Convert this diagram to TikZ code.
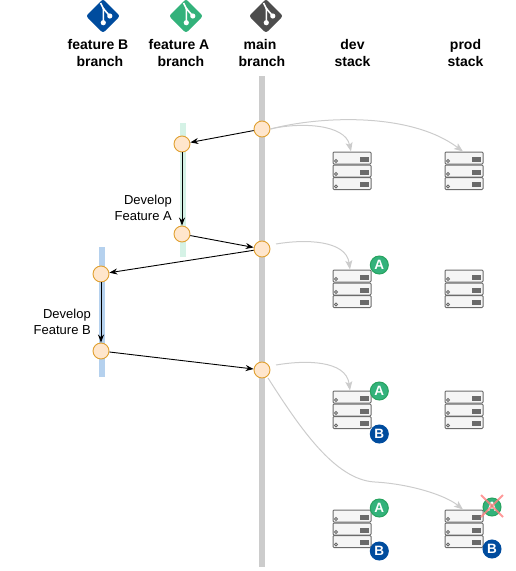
\documentclass[tikz,border=0pt]{standalone}
\usepackage{fontspec}
\setmainfont{Liberation Sans}
\usetikzlibrary{arrows.meta}
\definecolor{cgreen}{HTML}{33B27B}
\definecolor{cgreenb}{HTML}{27A35F}
\definecolor{cblue}{HTML}{004C9E}
\definecolor{cdark}{HTML}{4D4D4D}
\definecolor{cbar}{HTML}{CCCCCC}
\definecolor{cbara}{HTML}{D5F2E6}
\definecolor{cbarb}{HTML}{B5D1EE}
\definecolor{cfill}{HTML}{FFE6CC}
\definecolor{cedge}{HTML}{E0A030}
\tikzset{
  commit/.style={circle,draw=cedge,fill=cfill,line width=.9pt,minimum size=16pt,inner sep=0pt},
  flow/.style={-{Stealth[length=8pt,width=6pt]},black,line width=.9pt},
  deploy/.style={-{Stealth[length=9pt,width=7pt,inset=2pt]},cbar,line width=1pt},
  head/.style={font=\fontsize{14}{17}\selectfont\bfseries,align=center,text=black,inner sep=0pt},
  note/.style={font=\fontsize{13}{16}\selectfont,align=right,anchor=east,inner sep=0pt},
  unit/.style={draw=black!58,fill=black!4,rounded corners=1pt,line width=1pt,minimum width=38pt,minimum height=12pt,inner sep=0pt},
  badge/.style={circle,minimum size=18pt,inner sep=0pt,text=white,font=\fontsize{13.5}{13.5}\selectfont\bfseries},
  badgea/.style={badge,fill=cgreen,draw=cgreenb,line width=1pt},
  badgeb/.style={badge,fill=cblue,draw=cblue,line width=1pt},
}
\newcommand{\gitlogo}[3]{%
  \begin{scope}[shift={(#1,#2)}]
    \fill[#3,rounded corners=2.5pt] (-17,0)--(0,-17)--(17,0)--(0,17)--cycle;
    \draw[white,line width=1.6pt] (-2.4,-13)--(0.3,-7.5)--(0.3,6.7);
    \draw[white,line width=1.6pt] (0.3,-7.5)--(6.8,0);
    \fill[white] (0.3,6.7) circle (2.6pt) (6.8,0) circle (2.6pt) (0.3,-7.5) circle (1pt);
  \end{scope}}
\newcommand{\serverunit}[3]{%
  \node[unit] (#1) at (#2,#3) {};
  \fill[black!58] (#2+7.5,#3-1.2) rectangle (#2+16.5,#3+3.6);
  \draw[black!58,line width=.8pt,fill=white] (#2-16,#3+3) circle (1.5pt);}
\newcommand{\serverstack}[3]{%
  \serverunit{#1}{#2}{#3+6}
  \serverunit{#1m}{#2}{#3+19}
  \serverunit{#1b}{#2}{#3+31.5}}
\begin{document}
\begin{tikzpicture}[x=1pt,y=-1pt]
\useasboundingbox (0,0) rectangle (515,571);
% logos
\gitlogo{103}{16}{cblue}
\gitlogo{186}{16}{cgreen}
\gitlogo{266}{16}{cdark}
% headers
\node[head] (hb) at (98,53) {feature B\\\mbox{}\ branch};
\node[head] (ha) at (179,53) {feature A\\\mbox{}\ branch};
\node[head] (hm) at (260,53) {main\\\mbox{}\ branch};
\node[head] (hd) at (352.5,53) {dev\\stack};
\node[head] (hp) at (465.5,53) {prod\\stack};
% bars
\fill[cbar] (259,76) rectangle (265,567);
\fill[cbara] (179.5,123) rectangle (185.5,257);
\fill[cbarb] (99,247) rectangle (105,377);
% servers
\serverstack{da}{352}{152}
\serverstack{pa}{464}{152}
\serverstack{db}{352}{270}
\serverstack{pb}{464}{270}
\serverstack{dc}{352}{391}
\serverstack{pc}{464}{391}
\serverstack{dd}{352}{510}
\serverstack{pd}{464}{510}
% commits
\node[commit] (m1) at (262,129) {};
\node[commit] (m2) at (262,249) {};
\node[commit] (m3) at (262,370) {};
\node[commit] (a1) at (182,144) {};
\node[commit] (a2) at (182,234) {};
\node[commit] (b1) at (101,274) {};
\node[commit] (b2) at (101,351) {};
% deploy curves
\coordinate (s2) at (276,244);
\coordinate (s3) at (276,365);
\coordinate (s4) at (268,378);
\coordinate (mid) at (375,482);
\draw[deploy] (m1.east) .. controls (300,122) and (345,124) .. ([xshift=-1pt]da.north);
\draw[deploy] (m1.east) .. controls (320,116) and (410,112) .. ([xshift=-1pt]pa.north);
\draw[deploy] (s2) .. controls (305,239) and (346,240) .. ([xshift=-2pt]db.north);
\draw[deploy] (s3) .. controls (305,360) and (346,360) .. ([xshift=-2pt]dc.north);
\draw[deploy] (s4) .. controls (300,428) and (335,480) .. (mid) .. controls (410,484) and (445,495) .. ([xshift=-1pt]pd.north);
% flow
\draw[flow] (m1) -- (a1);
\draw[flow] (a1) -- (a2);
\draw[flow] (a2) -- (m2);
\draw[flow] (m2) -- (b1);
\draw[flow] (b1) -- (b2);
\draw[flow] (b2) -- (m3);
% notes
\node[note] (na) at (172,207.5) {Develop\\Feature A};
\node[note] (nb) at (91,321.5) {Develop\\Feature B};
% badges
\node[badgea] (ba) at (379.3,265) {A};
\node[badgea] (bc) at (379.3,391) {A};
\node[badgeb] (bd) at (379.3,434) {B};
\node[badgea] (be) at (379.3,508) {A};
\node[badgeb] (bf) at (379.3,551) {B};
\node[badgea] (bg) at (492,507) {A};
\node[badgeb] (bh) at (492,549) {B};
\draw[line width=2pt,draw=red!50,opacity=.8] (481,495)--(503,517) (503,495)--(481,517);
\end{tikzpicture}
\end{document}
